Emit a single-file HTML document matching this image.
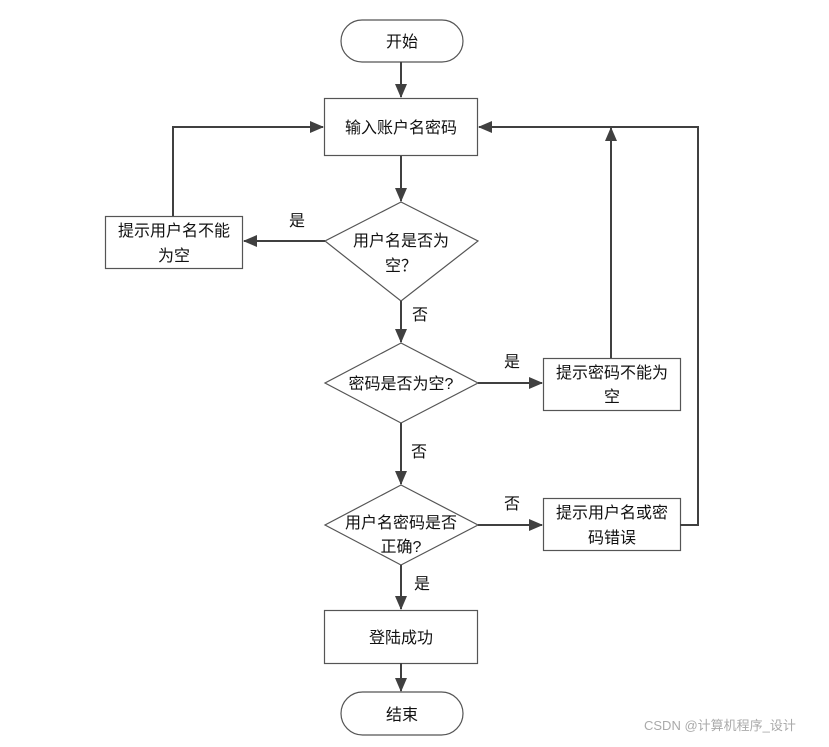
<!DOCTYPE html>
<html><head><meta charset="utf-8"><style>
html,body{margin:0;padding:0;background:#fff;}
text{font-family:"Liberation Sans","Noto Sans CJK SC",sans-serif;font-size:16px;fill:#111;}
</style></head><body>
<svg width="829" height="742" viewBox="0 0 829 742" xmlns="http://www.w3.org/2000/svg">
<defs><marker id="a" markerWidth="10" markerHeight="10" refX="9" refY="5" orient="auto" markerUnits="userSpaceOnUse"><path d="M0,0 L10,5 L0,10 z" fill="#404040"/></marker>
<marker id="b" markerWidth="14" markerHeight="12" refX="13" refY="6" orient="auto" markerUnits="userSpaceOnUse"><path d="M0,0 L14,6 L0,12 z" fill="#404040"/></marker></defs>
<g fill="#fff" stroke="#555" stroke-width="1.2">
<rect x="341" y="20" width="122" height="42" rx="21"/>
<rect x="324.5" y="98.5" width="153" height="57"/>
<rect x="105.5" y="216.5" width="137" height="52"/>
<polygon points="401,202 478,241 401,301 325,241"/>
<polygon points="401,343 478,383 401,423 325,383"/>
<rect x="543.5" y="358.5" width="137" height="52"/>
<polygon points="401,485 478,525 401,565 325,525"/>
<rect x="543.5" y="498.5" width="137" height="52"/>
<rect x="324.5" y="610.5" width="153" height="53"/>
<rect x="341" y="692" width="122" height="43" rx="21.5"/>
</g>
<g stroke="#404040" stroke-width="2" fill="none" marker-end="url(#b)">
<line x1="401" y1="62" x2="401" y2="97"/>
<line x1="401" y1="156" x2="401" y2="201"/>
<line x1="325" y1="241" x2="244" y2="241"/>
<polyline points="173,216 173,127 323,127"/>
<line x1="401" y1="301" x2="401" y2="342"/>
<line x1="478" y1="383" x2="542" y2="383"/>
<line x1="611" y1="358" x2="611" y2="128"/>
<line x1="401" y1="423" x2="401" y2="484"/>
<line x1="478" y1="525" x2="542" y2="525"/>
<polyline points="680,525 698,525 698,127 479,127"/>
<line x1="401" y1="565" x2="401" y2="609"/>
<line x1="401" y1="663" x2="401" y2="691"/>
</g>
<g text-anchor="middle">
<text x="402" y="47">开始</text>
<text x="401" y="133">输入账户名密码</text>
<text x="174" y="236">提示用户名不能</text>
<text x="174" y="261">为空</text>
<text x="401" y="246">用户名是否为</text>
<text x="401" y="271">空？</text>
<text x="401" y="389">密码是否为空?</text>
<text x="612" y="378">提示密码不能为</text>
<text x="612" y="402">空</text>
<text x="401" y="528">用户名密码是否</text>
<text x="401" y="552">正确?</text>
<text x="612" y="518">提示用户名或密</text>
<text x="612" y="543">码错误</text>
<text x="401" y="643">登陆成功</text>
<text x="402" y="720">结束</text>
<text x="297" y="226">是</text>
<text x="420" y="320">否</text>
<text x="512" y="367">是</text>
<text x="419" y="457">否</text>
<text x="512" y="509">否</text>
<text x="422" y="589">是</text>
</g>
<text x="644" y="730" style="font-size:13px;fill:#aaa">CSDN @计算机程序_设计</text>
</svg>
</body></html>
